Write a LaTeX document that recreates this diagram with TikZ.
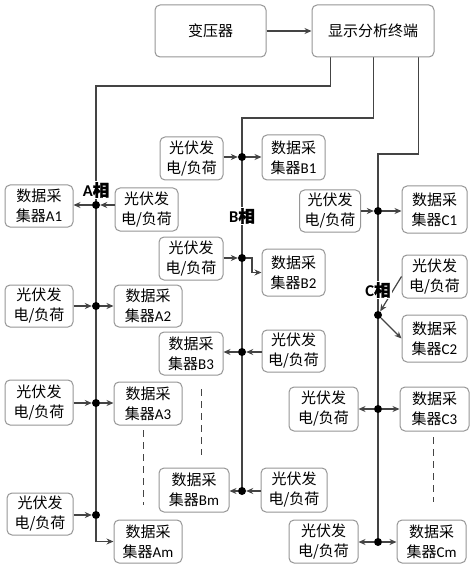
\documentclass[tikz,border=0pt]{standalone}
\usepackage{fontspec}
\setmainfont{Carlito}
\newfontfamily\cjk{Noto Sans CJK SC}
\newfontfamily\cjkb[FakeBold=1.5]{Noto Sans CJK SC}
\usetikzlibrary{arrows.meta,positioning,calc,backgrounds}
\definecolor{linegray}{RGB}{68,68,68}
\definecolor{boxgray}{RGB}{150,150,150}
\newcommand{\pvload}{{\cjk 光伏发}\\{\cjk 电/负荷}}
\newcommand{\collector}[1]{{\cjk 数据采}\\{\cjk 集器}#1}
\tikzset{
  blk/.style={draw=boxgray, fill=white, rounded corners=5pt, line width=1pt,
              minimum width=66pt, minimum height=43pt, inner sep=1pt, align=center,
              font=\fontsize{15}{20}\selectfont},
  topblk/.style={blk, minimum height=52pt},
  jdot/.style={circle, fill=black, inner sep=0pt, minimum size=8pt},
  flowarr/.style={-{Stealth[length=7pt,width=6pt]}, linegray, line width=1.2pt},
  busline/.style={linegray, line width=1.2pt},
  phase/.style={fill=white, inner sep=1.5pt, font=\fontsize{16.5}{18}\selectfont\bfseries},
  dashsep/.style={linegray, line width=1pt, dash pattern=on 7pt off 5pt},
}

\begin{document}
\begin{tikzpicture}[x=1pt, y=-1pt]
  \useasboundingbox (0,0) rectangle (474,569);

  % top row
  \node[topblk, minimum width=111pt] (xfmr) at (210.5,31) {{\cjk 变压器}};
  \node[topblk, minimum width=122pt] (term) at (373,31) {{\cjk 显示分析终端}};
  \draw[flowarr] (xfmr) -- (term);

  % A phase
  \node[jdot] (da1) at (96,205) {};
  \node[blk, minimum width=68pt, minimum height=42pt] (a1c) at (39,206) {\collector{A1}};
  \node[blk, minimum width=63pt] (a1s) at (146.5,209.5) {\pvload};
  \node[jdot] (da2) at (96,306) {};
  \node[blk, minimum width=68pt, minimum height=42pt] (a2s) at (39,306) {\pvload};
  \node[blk, minimum width=68pt, minimum height=42pt] (a2c) at (148,306) {\collector{A2}};
  \node[jdot] (da3) at (96,403) {};
  \node[blk, minimum width=68pt, minimum height=45pt] (a3s) at (39,402.5) {\pvload};
  \node[blk, minimum width=68pt] (a3c) at (148,403.5) {\collector{A3}};
  \node[jdot] (dam) at (96,515) {};
  \node[blk, minimum height=42pt] (ams) at (40,514) {\pvload};
  \node[blk, minimum width=68pt] (amc) at (148,541.5) {\collector{Am}};

  % B phase
  \node[jdot] (db1) at (242,157) {};
  \node[blk, minimum width=63pt] (b1s) at (191.5,158.5) {\pvload};
  \node[blk, minimum width=63pt, minimum height=45pt] (b1c) at (293.5,157.5) {\collector{B1}};
  \node[jdot] (db2) at (242,258) {};
  \node[blk, minimum width=64pt] (b2s) at (191,258.5) {\pvload};
  \node[blk, minimum width=63pt, minimum height=47pt] (b2c) at (293.5,272.5) {\collector{B2}};
  \node[jdot] (db3) at (242,352) {};
  \node[blk, minimum width=64pt] (b3c) at (191,353.5) {\collector{B3}};
  \node[blk, minimum width=63pt, minimum height=42pt] (b3s) at (293.5,351) {\pvload};
  \node[jdot] (dbm) at (242,491) {};
  \node[blk, minimum width=70pt, minimum height=44pt] (bmc) at (194,490) {\collector{Bm}};
  \node[blk, minimum height=44pt] (bms) at (294,490) {\pvload};

  % C phase
  \node[jdot] (dc1) at (378,211) {};
  \node[blk, minimum width=61pt, minimum height=42pt] (c1s) at (330,211) {\pvload};
  \node[blk, minimum width=65pt, minimum height=47pt] (c1c) at (434.5,209.5) {\collector{C1}};
  \node[jdot] (dc2) at (378,315) {};
  \node[blk, minimum width=65pt] (c2s) at (434.5,276.5) {\pvload};
  \node[blk, minimum width=65pt, minimum height=47pt] (c2c) at (434.5,338.5) {\collector{C2}};
  \node[jdot] (dc3) at (378,409) {};
  \node[blk, minimum width=69pt, minimum height=44pt] (c3s) at (323.5,409) {\pvload};
  \node[blk, minimum width=69pt, minimum height=44pt] (c3c) at (434.5,409) {\collector{C3}};
  \node[jdot] (dcm) at (378,542) {};
  \node[blk, minimum width=69pt] (cms) at (323.5,541.5) {\pvload};
  \node[blk, minimum width=69pt] (cmc) at (431.5,541.5) {\collector{Cm}};

  % buses from the terminal
  \coordinate (tapA) at ([xshift=19pt]term.south west);
  \coordinate (tapB) at ([xshift=62pt]term.south west);
  \coordinate (tapC) at ([xshift=107pt]term.south west);
  \begin{scope}[on background layer]
    \draw[busline] (tapA) |- (96,86) -- (dam.center);
    \draw[busline] (tapB) |- (242,118) -- (dbm.center);
    \draw[busline] (tapC) |- (378,154) -- (dcm.center);
  \end{scope}
  \draw[flowarr] (dam) |- (amc.west);

  % A taps
  \draw[flowarr] (a1s.west |- da1) -- (da1);
  \draw[flowarr] (da1) -- (a1c.east |- da1);
  \draw[flowarr] (a2s.east |- da2) -- (da2);
  \draw[flowarr] (da2) -- (a2c.west |- da2);
  \draw[flowarr] (a3s.east |- da3) -- (da3);
  \draw[flowarr] (da3) -- (a3c.west |- da3);
  \draw[flowarr] (ams.east |- dam) -- (dam);

  % B taps
  \draw[flowarr] (b1s.east |- db1) -- (db1);
  \draw[flowarr] (db1) -- (b1c.west |- db1);
  \draw[flowarr] (b2s.east |- db2) -- (db2);
  \draw[flowarr] (db2) -- ++(10,0) |- (b2c.west);
  \draw[flowarr] (b3s.west |- db3) -- (db3);
  \draw[flowarr] (db3) -- (b3c.east |- db3);
  \draw[flowarr] (bms.west |- dbm) -- (dbm);
  \draw[flowarr] (dbm) -- (bmc.east |- dbm);

  % C taps
  \draw[flowarr] (c1s.east |- dc1) -- (dc1);
  \draw[flowarr] (dc1) -- (c1c.west |- dc1);
  \draw[flowarr] (c2s.west) -- (dc2);
  \draw[flowarr] (dc2) -- (c2c.west);
  \draw[flowarr] (dc3) -- (c3s.east |- dc3);
  \draw[flowarr] (dc3) -- (c3c.west |- dc3);
  \draw[flowarr] (dcm) -- (cms.east |- dcm);
  \draw[flowarr] (dcm) -- (cmc.west |- dcm);

  % omitted taps
  \draw[dashsep] (143,430) -- (143,505);
  \draw[dashsep] (201,389) -- (201,455);
  \draw[dashsep] (433,437) -- (433,502);

  % phase labels
  \node[phase] (lblA) at (96,190) {A{\cjkb 相}};
  \node[phase] (lblB) at (242,216) {B{\cjkb 相}};
  \node[phase] (lblC) at (378,290) {C{\cjkb 相}};
\end{tikzpicture}
\end{document}
